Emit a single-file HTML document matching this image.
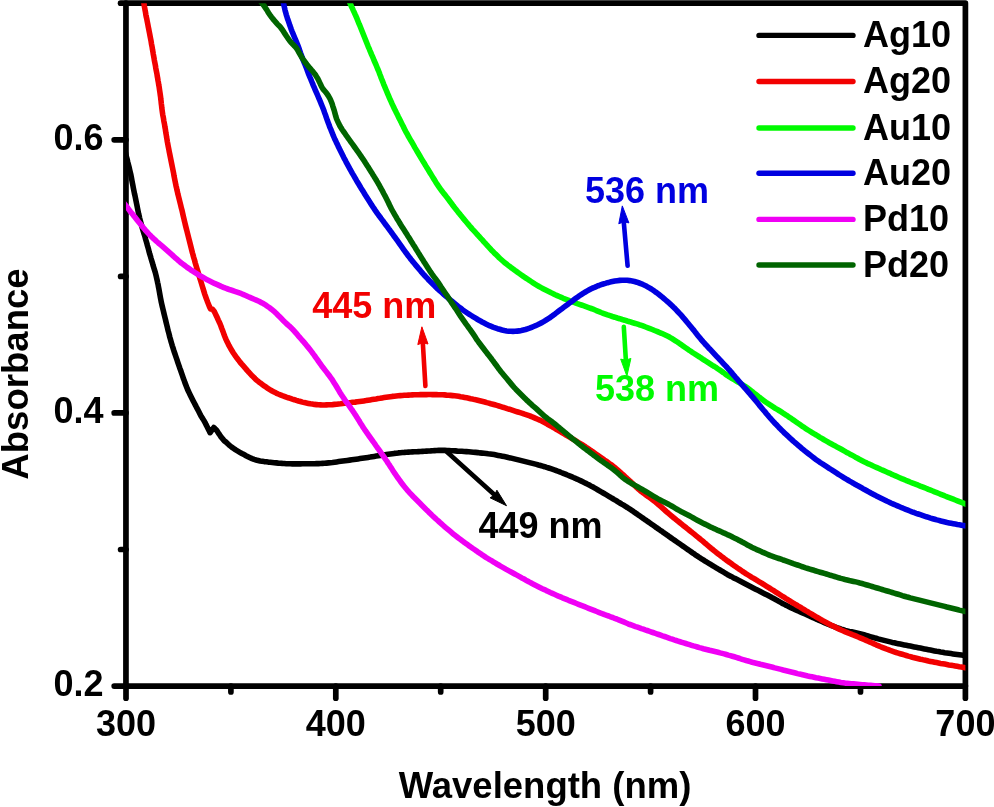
<!DOCTYPE html>
<html><head><meta charset="utf-8"><title>Absorbance spectra</title>
<style>html,body{margin:0;padding:0;background:#fff;width:994px;height:807px;overflow:hidden}svg{display:block;filter:blur(0.45px)}</style>
</head><body>
<svg width="994" height="807" viewBox="0 0 994 807">
<defs><clipPath id="pc"><rect x="125.95" y="3.2" width="839.45" height="682.9"/></clipPath></defs>
<rect width="994" height="807" fill="#fff"/>
<g stroke="#000" stroke-width="5.7" stroke-linecap="round" fill="none">
<path d="M125.95,3.2 L965.4,3.2 L965.4,686.1 L125.95,686.1 Z" stroke-linejoin="round"/>
<line x1="114.2" y1="686.1" x2="125.95" y2="686.1"/>
<line x1="114.2" y1="412.9" x2="125.95" y2="412.9"/>
<line x1="114.2" y1="139.8" x2="125.95" y2="139.8"/>
<line x1="120.6" y1="549.5" x2="125.95" y2="549.5"/>
<line x1="120.6" y1="276.4" x2="125.95" y2="276.4"/>
<line x1="120.6" y1="3.2" x2="125.95" y2="3.2"/>
<line x1="126.0" y1="686.1" x2="126.0" y2="698.2"/>
<line x1="335.8" y1="686.1" x2="335.8" y2="698.2"/>
<line x1="545.7" y1="686.1" x2="545.7" y2="698.2"/>
<line x1="755.5" y1="686.1" x2="755.5" y2="698.2"/>
<line x1="965.4" y1="686.1" x2="965.4" y2="698.2"/>
<line x1="230.9" y1="686.1" x2="230.9" y2="692"/>
<line x1="440.7" y1="686.1" x2="440.7" y2="692"/>
<line x1="650.6" y1="686.1" x2="650.6" y2="692"/>
<line x1="860.5" y1="686.1" x2="860.5" y2="692"/>
</g>
<g clip-path="url(#pc)" fill="none" stroke-linejoin="round" stroke-linecap="round">
<polyline points="125.0,151.0 125.5,153.0 126.0,155.1 126.6,157.4 127.2,159.6 127.7,161.9 128.3,164.2 128.9,166.4 129.4,168.6 129.9,170.8 130.4,172.9 130.9,175.0 131.3,177.1 131.7,179.3 132.1,181.4 132.5,183.5 132.9,185.6 133.3,187.7 133.7,189.8 134.1,191.8 134.5,193.8 135.0,195.8 135.4,197.8 135.8,199.8 136.2,201.8 136.6,203.8 137.0,205.7 137.4,207.7 137.8,209.7 138.2,211.7 138.6,213.7 139.1,215.6 139.5,217.6 140.0,219.6 140.5,221.6 141.1,223.6 141.6,225.6 142.2,227.6 142.8,229.6 143.4,231.6 144.0,233.6 144.6,235.5 145.2,237.5 145.7,239.5 146.3,241.5 146.9,243.5 147.4,245.5 148.0,247.6 148.6,249.6 149.1,251.8 149.7,253.9 150.4,256.1 151.0,258.3 151.7,260.6 152.4,262.8 153.0,265.1 153.7,267.3 154.4,269.6 155.1,271.8 155.7,274.1 156.2,276.2 156.7,278.4 157.2,280.5 157.6,282.6 158.1,284.7 158.5,286.9 158.9,289.0 159.3,291.2 159.7,293.4 160.1,295.7 160.5,297.9 160.9,300.1 161.3,302.2 161.8,304.4 162.3,306.5 162.8,308.6 163.3,310.7 163.8,312.7 164.3,314.8 164.8,316.9 165.3,318.9 165.8,321.0 166.3,323.1 166.8,325.1 167.3,327.2 167.8,329.3 168.3,331.3 168.9,333.4 169.4,335.5 169.9,337.5 170.5,339.6 171.1,341.7 171.7,343.7 172.3,345.8 173.0,347.9 173.6,349.9 174.3,352.0 175.0,354.0 175.7,356.1 176.4,358.1 177.1,360.2 177.8,362.3 178.5,364.3 179.2,366.4 179.9,368.4 180.7,370.5 181.4,372.6 182.1,374.6 182.8,376.7 183.5,378.8 184.3,380.8 185.0,382.9 185.8,384.9 186.6,387.0 187.4,389.0 188.3,391.0 189.2,392.9 190.2,394.9 191.2,396.9 192.2,398.9 193.2,400.9 194.3,403.0 195.4,405.1 196.4,407.1 197.5,409.1 198.5,411.0 199.5,413.0 200.4,414.9 201.5,416.8 202.7,418.6 203.8,420.4 204.9,422.3 205.9,424.4 207.0,426.5 208.0,428.5 209.1,430.6 210.1,432.7 211.3,431.0 212.6,429.2 213.8,427.5 215.3,429.0 216.8,430.5 217.9,432.2 219.0,433.9 220.1,435.5 221.2,437.2 222.7,438.9 224.2,440.7 226.2,442.3 228.0,444.0 229.8,445.6 231.7,447.1 233.7,448.5 235.7,449.9 237.8,451.1 239.8,452.3 241.9,453.5 244.0,454.6 246.0,455.7 248.0,456.7 250.1,457.7 252.1,458.6 254.1,459.4 256.1,460.0 258.1,460.5 260.1,461.0 262.1,461.3 264.2,461.6 266.2,461.8 268.2,462.1 270.2,462.3 272.2,462.5 274.2,462.7 276.2,462.9 278.3,463.1 280.3,463.2 282.3,463.4 284.3,463.5 286.3,463.7 288.3,463.8 290.3,463.8 292.3,463.9 294.3,463.9 296.3,463.9 298.3,463.9 300.4,463.9 302.4,463.8 304.4,463.8 306.4,463.8 308.4,463.7 310.4,463.7 312.4,463.7 314.5,463.7 316.5,463.6 318.5,463.6 320.5,463.5 322.5,463.4 324.5,463.3 326.5,463.1 328.5,462.9 330.5,462.7 332.5,462.5 334.6,462.2 336.6,461.9 338.7,461.6 340.8,461.3 342.9,461.0 345.1,460.7 347.3,460.4 349.6,460.1 351.8,459.8 353.9,459.5 356.0,459.2 358.1,458.9 360.1,458.6 362.1,458.3 364.1,458.0 366.1,457.7 368.1,457.4 370.2,457.1 372.2,456.7 374.2,456.4 376.2,456.1 378.2,455.8 380.2,455.5 382.2,455.2 384.3,454.9 386.3,454.6 388.3,454.3 390.3,454.0 392.3,453.7 394.3,453.4 396.4,453.2 398.4,452.9 400.4,452.7 402.4,452.5 404.4,452.4 406.4,452.2 408.4,452.1 410.4,452.0 412.4,451.9 414.5,451.8 416.5,451.7 418.5,451.6 420.5,451.5 422.5,451.4 424.6,451.3 426.6,451.1 428.6,451.0 430.6,450.9 432.6,450.7 434.7,450.6 436.7,450.5 438.7,450.4 440.8,450.4 442.9,450.4 444.9,450.4 447.0,450.5 449.1,450.6 451.1,450.7 453.2,450.8 455.3,450.9 457.4,451.1 459.6,451.2 461.9,451.3 464.1,451.5 466.4,451.6 468.7,451.8 471.0,452.0 473.3,452.2 475.6,452.4 477.8,452.6 480.0,452.9 482.1,453.1 484.1,453.3 486.2,453.5 488.2,453.8 490.2,454.0 492.2,454.3 494.2,454.6 496.2,455.0 498.2,455.4 500.3,455.8 502.3,456.2 504.3,456.6 506.3,457.0 508.3,457.5 510.3,457.9 512.3,458.4 514.3,458.9 516.3,459.4 518.4,459.9 520.4,460.4 522.4,460.9 524.4,461.4 526.4,461.9 528.4,462.4 530.4,462.9 532.5,463.4 534.5,463.9 536.5,464.4 538.5,465.0 540.5,465.5 542.6,466.1 544.6,466.7 546.7,467.4 548.7,468.0 550.8,468.7 552.9,469.4 555.0,470.1 557.0,470.9 559.1,471.6 561.2,472.5 563.3,473.3 565.4,474.1 567.4,475.0 569.5,475.8 571.4,476.6 573.4,477.5 575.3,478.3 577.1,479.2 579.0,480.0 580.9,480.9 582.7,481.8 584.6,482.7 586.5,483.6 588.3,484.6 590.2,485.6 592.0,486.6 593.9,487.6 595.8,488.7 597.6,489.7 599.5,490.8 601.3,491.9 603.2,493.0 605.0,494.0 606.9,495.2 608.8,496.3 610.6,497.4 612.5,498.5 614.3,499.6 616.2,500.7 618.0,501.9 619.9,503.0 621.7,504.1 623.6,505.2 625.5,506.4 627.3,507.5 629.1,508.7 631.0,509.9 632.8,511.1 634.6,512.4 636.4,513.6 638.1,514.8 639.9,516.0 641.6,517.2 643.3,518.4 644.9,519.6 646.6,520.7 648.3,521.9 649.9,523.0 651.6,524.2 653.2,525.3 654.9,526.5 656.5,527.7 658.2,528.8 659.8,530.0 661.5,531.1 663.1,532.3 664.8,533.4 666.4,534.6 668.1,535.7 669.7,536.9 671.4,538.1 673.0,539.2 674.7,540.4 676.3,541.5 678.0,542.7 679.6,543.8 681.3,545.0 682.9,546.1 684.6,547.3 686.3,548.5 687.9,549.6 689.6,550.8 691.2,551.9 692.9,553.1 694.6,554.2 696.2,555.4 698.0,556.5 699.7,557.7 701.5,558.8 703.3,559.9 705.1,561.1 706.9,562.2 708.8,563.3 710.6,564.4 712.5,565.6 714.3,566.7 716.2,567.8 718.0,568.9 719.9,570.0 721.8,571.1 723.6,572.2 725.5,573.3 727.3,574.4 729.2,575.4 731.1,576.4 732.9,577.4 734.8,578.4 736.7,579.3 738.5,580.2 740.4,581.2 742.3,582.2 744.2,583.2 746.1,584.2 748.0,585.2 749.9,586.2 751.8,587.2 753.7,588.2 755.6,589.2 757.4,590.1 759.3,591.0 761.2,592.0 763.0,592.9 764.9,593.9 766.7,594.8 768.6,595.8 770.5,596.8 772.3,597.8 774.2,598.8 776.0,599.8 777.9,600.8 779.8,601.9 781.6,602.9 783.5,603.9 785.3,604.9 787.2,605.8 789.0,606.7 790.9,607.6 792.7,608.5 794.6,609.3 796.4,610.1 798.3,611.0 800.2,611.8 802.0,612.6 803.9,613.5 805.7,614.3 807.6,615.1 809.4,616.0 811.3,616.8 813.1,617.7 815.0,618.5 816.9,619.3 818.7,620.2 820.6,621.0 822.4,621.8 824.3,622.6 826.2,623.4 828.0,624.2 829.9,624.9 831.7,625.7 833.6,626.4 835.5,627.1 837.4,627.8 839.3,628.5 841.2,629.2 843.2,629.8 845.2,630.4 847.3,630.9 849.3,631.4 851.5,631.8 853.6,632.3 855.7,632.8 857.8,633.3 859.9,633.8 861.9,634.3 864.0,634.8 866.0,635.4 868.0,636.0 870.1,636.6 872.1,637.2 874.1,637.8 876.1,638.3 878.1,638.9 880.1,639.4 882.1,639.9 884.1,640.4 886.2,640.9 888.2,641.4 890.2,641.9 892.2,642.4 894.2,642.8 896.2,643.3 898.2,643.7 900.2,644.1 902.3,644.5 904.3,644.9 906.3,645.3 908.3,645.7 910.3,646.1 912.3,646.5 914.3,646.9 916.4,647.3 918.4,647.7 920.4,648.1 922.4,648.5 924.4,648.9 926.4,649.3 928.4,649.7 930.4,650.1 932.5,650.5 934.5,650.9 936.5,651.3 938.5,651.6 940.6,652.0 942.6,652.3 944.7,652.7 946.8,653.0 948.9,653.3 951.0,653.6 953.0,653.9 955.1,654.2 957.2,654.5 959.3,654.8 961.4,655.1 968.0,656.0" stroke="#000000" stroke-width="5.6"/>
<polyline points="143.6,1.5 144.0,3.7 144.3,5.9 144.7,8.0 145.1,10.2 145.5,12.3 145.8,14.4 146.2,16.5 146.7,18.6 147.1,20.7 147.5,22.7 147.9,24.8 148.3,26.9 148.7,28.9 149.1,31.0 149.5,33.1 149.9,35.1 150.3,37.2 150.7,39.3 151.1,41.3 151.4,43.4 151.8,45.5 152.2,47.5 152.5,49.6 152.9,51.7 153.2,53.7 153.6,55.8 154.0,57.9 154.3,59.9 154.7,62.0 155.1,64.0 155.5,66.1 155.8,68.2 156.2,70.2 156.6,72.3 157.0,74.3 157.3,76.4 157.7,78.4 158.0,80.5 158.4,82.6 158.7,84.6 159.1,86.7 159.4,88.8 159.7,90.8 160.0,92.9 160.3,95.0 160.6,97.1 160.8,99.2 161.1,101.4 161.3,103.6 161.6,105.8 161.8,107.9 162.1,110.1 162.4,112.3 162.7,114.4 163.1,116.5 163.5,118.6 163.8,120.7 164.2,122.7 164.6,124.8 164.9,126.9 165.3,128.9 165.6,131.0 165.9,133.1 166.3,135.2 166.6,137.3 167.0,139.4 167.3,141.5 167.7,143.6 168.1,145.7 168.5,147.8 168.9,149.8 169.3,151.9 169.7,153.9 170.1,155.9 170.5,157.9 170.9,159.9 171.3,161.9 171.7,163.9 172.1,165.8 172.5,167.8 172.9,169.8 173.3,171.8 173.7,173.8 174.0,175.8 174.4,177.8 174.8,179.8 175.2,181.8 175.6,183.8 176.0,185.7 176.5,187.7 176.9,189.7 177.4,191.7 177.8,193.7 178.3,195.6 178.8,197.6 179.3,199.6 179.8,201.6 180.3,203.6 180.8,205.7 181.3,207.8 181.9,209.9 182.4,212.1 182.9,214.4 183.4,216.6 183.9,218.7 184.4,220.9 184.9,222.9 185.4,225.0 185.9,227.0 186.4,229.0 186.9,230.9 187.4,232.9 187.9,234.9 188.4,236.9 188.9,238.9 189.4,240.8 189.9,242.8 190.4,244.8 190.9,246.8 191.4,248.8 191.9,250.8 192.4,252.8 193.0,254.8 193.5,256.8 194.1,258.8 194.7,260.7 195.2,262.7 195.8,264.7 196.4,266.7 197.0,268.7 197.6,270.6 198.2,272.6 198.8,274.6 199.4,276.6 200.0,278.6 200.6,280.5 201.2,282.5 201.8,284.5 202.4,286.5 203.0,288.4 203.6,290.4 204.2,292.4 204.8,294.4 205.5,296.3 206.2,298.2 206.9,300.1 207.6,302.0 208.5,304.2 209.4,306.5 210.6,309.0 212.5,309.3 214.3,311.5 215.3,313.6 216.3,315.7 217.3,317.8 218.3,320.1 219.3,322.2 220.2,324.2 221.0,326.2 221.7,328.2 222.5,330.2 223.2,332.1 223.9,334.1 224.6,336.0 225.4,338.0 226.2,339.9 227.1,341.8 228.0,343.6 228.9,345.4 229.9,347.2 230.9,349.0 232.0,350.8 233.2,352.7 234.4,354.5 235.7,356.4 237.1,358.3 238.6,360.2 240.0,362.1 241.5,363.9 243.1,365.7 244.6,367.4 246.1,369.1 247.6,370.9 249.1,372.5 250.6,374.2 252.1,375.8 253.7,377.3 255.2,378.8 256.9,380.3 258.6,381.7 260.4,383.1 262.3,384.5 264.2,385.9 266.2,387.2 268.2,388.6 270.2,389.8 272.2,391.0 274.2,392.1 276.2,393.1 278.2,394.0 280.3,394.8 282.3,395.6 284.3,396.3 286.3,397.1 288.3,397.8 290.3,398.4 292.3,399.1 294.3,399.7 296.3,400.4 298.4,401.0 300.4,401.5 302.4,402.1 304.4,402.6 306.4,403.0 308.4,403.4 310.4,403.8 312.4,404.1 314.4,404.4 316.5,404.6 318.5,404.8 320.5,404.9 322.5,405.0 324.5,405.0 326.5,404.9 328.5,404.8 330.5,404.7 332.5,404.6 334.6,404.4 336.6,404.3 338.6,404.0 340.6,403.8 342.6,403.5 344.7,403.3 346.7,403.0 348.7,402.8 350.8,402.6 353.0,402.3 355.1,402.1 357.4,401.8 359.6,401.5 361.7,401.2 363.9,400.9 366.0,400.6 368.0,400.2 370.1,399.9 372.1,399.6 374.1,399.3 376.1,399.0 378.1,398.6 380.1,398.3 382.1,397.9 384.2,397.6 386.2,397.3 388.2,397.0 390.2,396.7 392.2,396.4 394.2,396.2 396.2,396.0 398.2,395.8 400.2,395.6 402.3,395.5 404.3,395.3 406.3,395.2 408.3,395.1 410.3,395.0 412.3,394.9 414.3,394.8 416.4,394.8 418.4,394.7 420.4,394.6 422.4,394.6 424.4,394.6 426.4,394.6 428.4,394.5 430.4,394.5 432.5,394.6 434.5,394.6 436.5,394.6 438.5,394.7 440.5,394.7 442.5,394.8 444.5,394.9 446.5,395.1 448.6,395.2 450.6,395.4 452.6,395.6 454.6,395.8 456.6,396.0 458.6,396.3 460.6,396.7 462.6,397.0 464.6,397.4 466.7,397.8 468.7,398.2 470.7,398.7 472.7,399.1 474.7,399.6 476.7,400.0 478.7,400.5 480.7,401.0 482.8,401.5 484.8,402.0 486.8,402.6 488.8,403.1 490.8,403.7 492.8,404.2 494.8,404.8 496.9,405.4 498.9,406.0 500.9,406.6 503.0,407.3 505.0,407.9 507.1,408.6 509.3,409.2 511.4,409.9 513.6,410.6 515.7,411.3 517.9,412.0 520.1,412.7 522.4,413.4 524.6,414.2 526.8,414.9 529.1,415.7 531.3,416.5 533.4,417.4 535.6,418.3 537.7,419.2 539.7,420.1 541.7,421.1 543.6,422.1 545.5,423.1 547.4,424.2 549.3,425.2 551.2,426.2 553.0,427.3 554.9,428.4 556.7,429.5 558.6,430.5 560.4,431.6 562.3,432.8 564.2,433.9 566.0,435.0 567.9,436.1 569.7,437.2 571.6,438.3 573.4,439.4 575.3,440.5 577.1,441.7 579.0,442.8 580.8,443.9 582.6,445.0 584.4,446.1 586.1,447.3 587.9,448.4 589.5,449.6 591.2,450.7 592.9,451.9 594.5,453.0 596.2,454.2 597.8,455.3 599.5,456.5 601.1,457.7 602.8,458.8 604.4,460.0 606.1,461.1 607.7,462.3 609.3,463.5 611.0,464.6 612.6,465.8 614.1,467.1 615.7,468.3 617.2,469.6 618.7,470.9 620.3,472.3 621.7,473.6 623.2,474.9 624.7,476.3 626.2,477.7 627.7,479.0 629.3,480.5 630.8,481.9 632.3,483.3 633.8,484.8 635.4,486.3 636.9,487.7 638.5,489.1 640.1,490.5 641.7,491.8 643.3,493.0 645.0,494.2 646.6,495.4 648.3,496.6 649.9,497.8 651.6,499.0 653.2,500.2 654.9,501.5 656.5,502.9 658.2,504.3 659.8,505.7 661.5,507.2 663.1,508.6 664.8,510.1 666.4,511.6 668.1,513.0 669.7,514.4 671.4,515.8 673.0,517.2 674.7,518.5 676.3,519.9 678.0,521.2 679.6,522.5 681.3,523.9 682.9,525.2 684.6,526.5 686.3,527.8 687.9,529.1 689.6,530.5 691.2,531.8 692.9,533.1 694.5,534.4 696.2,535.8 697.8,537.1 699.5,538.5 701.1,539.8 702.8,541.2 704.4,542.6 706.1,544.0 707.7,545.4 709.4,546.8 711.0,548.2 712.7,549.5 714.3,550.8 716.0,552.2 717.6,553.4 719.3,554.7 720.9,556.0 722.6,557.2 724.2,558.5 725.9,559.7 727.5,560.9 729.2,562.1 730.9,563.3 732.5,564.5 734.2,565.7 735.8,566.8 737.5,568.0 739.2,569.1 740.9,570.3 742.6,571.5 744.4,572.6 746.2,573.8 748.1,575.0 749.9,576.1 751.8,577.3 753.7,578.4 755.6,579.5 757.4,580.7 759.3,581.8 761.2,582.9 763.0,584.0 764.8,585.2 766.6,586.3 768.4,587.4 770.2,588.5 771.9,589.6 773.7,590.7 775.4,591.8 777.1,592.9 778.7,593.9 780.4,595.0 782.1,596.1 783.9,597.2 785.6,598.3 787.4,599.4 789.1,600.5 790.9,601.6 792.8,602.8 794.6,603.9 796.5,605.0 798.3,606.1 800.2,607.2 802.0,608.4 803.9,609.5 805.7,610.6 807.6,611.7 809.4,612.8 811.3,613.9 813.1,615.0 815.0,616.1 816.9,617.3 818.7,618.3 820.6,619.4 822.4,620.5 824.3,621.5 826.2,622.5 828.0,623.5 829.9,624.5 831.7,625.4 833.6,626.3 835.5,627.3 837.3,628.2 839.2,629.1 841.1,630.0 842.9,630.8 844.8,631.6 846.7,632.4 848.6,633.2 850.5,633.9 852.4,634.7 854.3,635.4 856.2,636.2 858.2,637.0 860.1,637.8 862.1,638.6 864.1,639.5 866.1,640.4 868.1,641.3 870.1,642.2 872.1,643.0 874.1,643.9 876.1,644.8 878.1,645.6 880.1,646.5 882.1,647.3 884.1,648.1 886.2,648.9 888.2,649.6 890.2,650.4 892.2,651.1 894.2,651.8 896.2,652.5 898.2,653.1 900.2,653.7 902.3,654.3 904.3,654.9 906.3,655.5 908.3,656.1 910.3,656.6 912.3,657.2 914.3,657.7 916.4,658.2 918.4,658.7 920.4,659.2 922.4,659.6 924.4,660.1 926.4,660.5 928.4,661.0 930.4,661.4 932.5,661.8 934.5,662.2 936.5,662.6 938.5,663.0 940.6,663.4 942.6,663.7 944.7,664.1 946.8,664.5 948.9,664.9 951.0,665.2 953.0,665.6 955.1,665.9 957.2,666.3 959.3,666.7 961.4,667.0 968.0,668.2" stroke="#f20000" stroke-width="5.6"/>
<polyline points="349.2,1.5 350.1,3.3 350.9,5.2 351.7,7.0 352.6,8.8 353.4,10.6 354.3,12.5 355.1,14.4 356.0,16.3 356.8,18.2 357.6,20.2 358.4,22.2 359.2,24.2 360.1,26.2 360.9,28.2 361.7,30.2 362.5,32.2 363.3,34.2 364.1,36.2 364.9,38.2 365.7,40.3 366.5,42.3 367.3,44.3 368.1,46.3 369.0,48.3 369.8,50.3 370.7,52.4 371.5,54.4 372.4,56.4 373.3,58.4 374.1,60.5 375.0,62.5 375.9,64.5 376.7,66.5 377.5,68.5 378.4,70.5 379.2,72.5 379.9,74.5 380.7,76.5 381.4,78.5 382.2,80.4 383.0,82.4 383.7,84.3 384.5,86.2 385.3,88.1 386.1,90.0 386.9,91.9 387.7,93.8 388.5,95.7 389.3,97.6 390.1,99.5 391.0,101.3 391.8,103.2 392.7,105.1 393.6,107.0 394.5,109.0 395.5,110.9 396.4,112.8 397.4,114.7 398.3,116.7 399.3,118.6 400.3,120.5 401.2,122.4 402.2,124.4 403.2,126.3 404.1,128.2 405.1,130.2 406.1,132.1 407.2,134.0 408.2,136.0 409.3,137.9 410.4,139.8 411.6,141.8 412.7,143.7 413.8,145.6 414.9,147.6 416.1,149.6 417.2,151.5 418.4,153.5 419.6,155.5 420.8,157.6 422.0,159.6 423.3,161.7 424.6,163.8 425.8,165.9 427.1,168.0 428.4,170.0 429.6,172.1 430.9,174.1 432.1,176.1 433.3,178.1 434.6,180.1 435.8,182.2 437.1,184.2 438.4,186.1 439.8,188.1 441.1,190.0 442.5,191.8 443.9,193.6 445.3,195.3 446.7,197.1 448.0,198.8 449.3,200.5 450.6,202.3 451.9,204.0 453.2,205.8 454.5,207.5 455.9,209.2 457.2,210.9 458.5,212.6 459.9,214.2 461.2,215.9 462.6,217.5 463.9,219.2 465.3,220.8 466.7,222.5 468.1,224.1 469.5,225.8 470.9,227.4 472.3,229.1 473.8,230.7 475.2,232.2 476.7,233.8 478.1,235.4 479.6,237.0 481.0,238.6 482.5,240.2 483.9,241.8 485.4,243.4 486.8,245.0 488.3,246.6 489.7,248.1 491.1,249.7 492.6,251.2 494.0,252.7 495.5,254.1 497.0,255.6 498.5,257.1 500.0,258.5 501.7,260.0 503.4,261.5 505.2,263.1 507.2,264.6 509.1,266.1 511.1,267.6 513.1,269.0 515.1,270.5 517.1,271.9 519.0,273.3 521.0,274.7 523.0,276.1 525.0,277.5 527.1,278.8 529.1,280.2 531.1,281.5 533.1,282.8 535.1,284.1 537.1,285.3 539.1,286.5 541.1,287.6 543.1,288.7 545.2,289.8 547.2,290.8 549.2,291.8 551.2,292.8 553.2,293.7 555.2,294.7 557.2,295.6 559.2,296.5 561.3,297.4 563.3,298.3 565.3,299.1 567.3,299.9 569.3,300.7 571.3,301.4 573.3,302.1 575.3,302.8 577.4,303.6 579.4,304.3 581.4,305.0 583.4,305.7 585.3,306.4 587.3,307.1 589.3,307.8 591.2,308.5 593.1,309.2 595.1,310.0 597.0,310.8 599.0,311.6 601.1,312.5 603.2,313.3 605.4,314.1 607.6,314.9 610.0,315.7 612.4,316.5 614.8,317.2 617.3,318.0 619.7,318.7 622.2,319.5 624.7,320.2 627.2,321.0 629.6,321.7 632.1,322.5 634.5,323.2 636.9,323.9 639.2,324.7 641.5,325.4 643.6,326.2 645.7,327.0 647.9,327.8 650.0,328.6 652.3,329.5 654.6,330.5 656.9,331.4 659.2,332.4 661.5,333.3 663.7,334.3 665.8,335.3 667.9,336.3 669.8,337.3 671.7,338.4 673.6,339.6 675.5,340.8 677.4,342.0 679.2,343.3 681.1,344.6 682.9,345.9 684.8,347.2 686.7,348.5 688.5,349.8 690.4,351.0 692.2,352.3 694.1,353.5 695.9,354.7 697.8,355.9 699.6,357.0 701.4,358.2 703.1,359.4 704.9,360.5 706.7,361.7 708.6,362.9 710.5,364.1 712.4,365.3 714.4,366.5 716.3,367.7 718.1,369.0 719.9,370.2 721.7,371.4 723.4,372.6 725.1,373.9 726.8,375.1 728.5,376.3 730.3,377.4 732.2,378.6 734.1,379.7 736.0,380.8 738.0,382.0 740.0,383.1 741.9,384.3 743.8,385.5 745.7,386.7 747.6,388.1 749.5,389.5 751.3,390.9 753.1,392.3 754.9,393.8 756.8,395.3 758.6,396.7 760.5,398.1 762.3,399.5 764.2,400.9 766.0,402.2 767.9,403.5 769.7,404.7 771.6,405.9 773.5,407.1 775.3,408.3 777.2,409.4 779.0,410.5 780.9,411.7 782.7,412.9 784.6,414.1 786.5,415.3 788.3,416.6 790.2,417.8 792.0,419.1 793.9,420.4 795.8,421.7 797.6,423.0 799.5,424.3 801.3,425.6 803.2,426.8 805.0,428.1 806.9,429.3 808.8,430.5 810.6,431.6 812.5,432.8 814.3,433.9 816.2,435.0 818.1,436.2 819.9,437.3 821.8,438.4 823.6,439.5 825.5,440.6 827.4,441.7 829.2,442.7 831.1,443.7 832.9,444.7 834.8,445.7 836.7,446.8 838.5,447.8 840.4,448.8 842.2,449.8 844.1,450.9 845.9,451.9 847.8,452.9 849.6,453.9 851.5,454.9 853.3,455.9 855.1,456.9 857.0,457.9 858.8,459.0 860.7,460.0 862.6,461.0 864.6,462.0 866.6,462.9 868.6,463.9 870.7,464.8 872.7,465.8 874.8,466.7 876.9,467.6 878.9,468.5 881.0,469.5 883.1,470.4 885.1,471.3 887.2,472.2 889.3,473.1 891.3,474.1 893.4,475.0 895.5,475.9 897.5,476.8 899.6,477.7 901.7,478.6 903.7,479.4 905.8,480.3 907.9,481.1 909.9,482.0 912.0,482.8 914.1,483.6 916.1,484.4 918.2,485.2 920.3,486.1 922.3,486.9 924.4,487.7 926.5,488.5 928.5,489.4 930.6,490.2 932.7,491.0 934.7,491.9 936.8,492.7 938.9,493.5 940.9,494.3 943.0,495.1 945.1,496.0 947.1,496.8 949.2,497.6 951.2,498.4 953.3,499.2 955.3,500.0 957.4,500.8 959.4,501.6 961.5,502.4 968.0,505.0" stroke="#00fa00" stroke-width="5.6"/>
<polyline points="283.1,1.5 283.6,3.7 284.1,6.0 284.6,8.2 285.1,10.4 285.7,12.6 286.3,14.8 287.0,16.9 287.6,19.0 288.4,21.1 289.1,23.2 289.8,25.3 290.6,27.4 291.3,29.5 292.1,31.6 293.0,33.7 293.9,35.8 294.8,38.0 295.7,40.1 296.6,42.3 297.5,44.5 298.3,46.6 299.1,48.7 299.8,50.8 300.5,52.9 301.3,55.0 302.0,57.1 302.8,59.1 303.6,61.2 304.5,63.3 305.3,65.3 306.1,67.3 306.9,69.3 307.6,71.3 308.4,73.4 309.2,75.4 310.0,77.4 310.9,79.4 311.7,81.5 312.6,83.6 313.4,85.6 314.3,87.7 315.2,89.8 316.1,91.9 317.0,93.9 317.9,96.0 318.8,98.1 319.7,100.2 320.6,102.3 321.4,104.4 322.3,106.5 323.1,108.5 323.9,110.6 324.6,112.7 325.4,114.7 326.1,116.8 326.8,118.8 327.5,120.8 328.3,122.9 329.1,125.0 329.8,127.1 330.7,129.1 331.5,131.2 332.4,133.3 333.2,135.4 334.1,137.5 335.0,139.6 336.0,141.6 336.9,143.6 337.9,145.6 338.8,147.6 339.8,149.6 340.8,151.6 341.8,153.6 342.8,155.6 343.8,157.6 344.9,159.6 345.9,161.6 347.0,163.6 348.1,165.6 349.2,167.6 350.3,169.7 351.4,171.6 352.5,173.6 353.6,175.4 354.7,177.3 355.7,179.0 356.7,180.8 357.7,182.5 358.8,184.3 359.8,186.0 360.8,187.7 361.9,189.4 362.9,191.1 364.0,192.8 365.0,194.5 366.1,196.2 367.2,197.9 368.2,199.6 369.3,201.3 370.4,203.0 371.4,204.7 372.6,206.4 373.7,208.1 374.9,209.9 376.1,211.6 377.3,213.3 378.5,215.0 379.8,216.7 381.0,218.4 382.3,220.1 383.6,221.8 384.8,223.5 386.1,225.2 387.4,226.9 388.6,228.6 389.9,230.3 391.1,232.0 392.4,233.7 393.6,235.5 394.9,237.2 396.1,238.9 397.4,240.7 398.6,242.4 399.8,244.1 401.1,245.9 402.3,247.6 403.5,249.3 404.8,251.1 406.0,252.8 407.3,254.5 408.6,256.3 410.0,258.0 411.3,259.8 412.8,261.6 414.2,263.3 415.7,265.1 417.2,266.9 418.7,268.7 420.2,270.4 421.6,272.2 423.1,273.9 424.6,275.5 426.1,277.1 427.6,278.7 429.0,280.3 430.5,281.8 432.0,283.3 433.5,284.8 435.0,286.2 436.5,287.7 438.0,289.2 439.6,290.6 441.2,292.0 442.8,293.4 444.4,294.9 446.1,296.4 448.0,297.9 449.9,299.6 451.9,301.2 453.9,302.9 456.1,304.7 458.2,306.4 460.4,308.0 462.5,309.7 464.7,311.2 466.9,312.7 469.0,314.1 471.2,315.5 473.4,316.9 475.6,318.2 477.7,319.5 479.9,320.7 482.1,322.0 484.2,323.1 486.4,324.2 488.6,325.3 490.8,326.2 493.0,327.1 495.2,327.9 497.5,328.7 499.7,329.3 502.0,330.0 504.3,330.5 506.6,330.9 508.8,331.2 510.9,331.3 513.0,331.4 515.1,331.3 517.2,331.1 519.3,330.9 521.3,330.5 523.4,330.0 525.5,329.5 527.5,328.8 529.6,328.1 531.6,327.3 533.6,326.5 535.6,325.7 537.6,324.8 539.6,323.8 541.6,322.7 543.6,321.6 545.6,320.4 547.6,319.1 549.6,317.9 551.4,316.6 553.2,315.2 555.0,313.9 556.7,312.6 558.4,311.3 560.1,310.0 561.9,308.7 563.6,307.4 565.5,306.0 567.3,304.7 569.1,303.3 571.0,302.0 572.7,300.7 574.5,299.3 576.2,298.0 578.0,296.8 579.8,295.5 581.6,294.3 583.5,293.1 585.4,292.0 587.3,290.9 589.3,289.8 591.2,288.8 593.1,287.9 595.1,287.1 597.0,286.2 599.0,285.5 601.1,284.7 603.2,284.0 605.4,283.4 607.6,282.7 610.0,282.1 612.4,281.6 614.8,281.1 617.3,280.7 619.7,280.4 622.2,280.3 624.7,280.2 627.2,280.3 629.6,280.6 632.1,281.0 634.5,281.5 636.9,282.2 639.2,283.0 641.4,283.8 643.5,284.8 645.6,285.7 647.5,286.8 649.4,287.9 651.3,289.0 653.2,290.3 655.0,291.6 656.9,292.9 658.7,294.3 660.5,295.7 662.3,297.1 664.0,298.6 665.6,300.0 667.2,301.4 668.7,302.7 670.3,304.1 671.8,305.5 673.3,307.0 674.8,308.4 676.2,309.9 677.7,311.5 679.2,313.1 680.7,314.7 682.2,316.4 683.7,318.2 685.2,319.9 686.7,321.7 688.2,323.5 689.6,325.2 691.1,327.0 692.5,328.7 693.9,330.4 695.2,332.1 696.5,333.8 697.8,335.4 699.1,337.0 700.4,338.6 701.7,340.2 703.0,341.7 704.4,343.2 705.8,344.8 707.3,346.3 708.7,347.9 710.3,349.5 711.8,351.2 713.4,352.9 715.0,354.6 716.6,356.3 718.1,357.9 719.7,359.6 721.2,361.2 722.7,362.8 724.1,364.3 725.6,365.9 727.1,367.5 728.5,369.1 730.0,370.7 731.4,372.4 732.8,374.1 734.3,375.8 735.7,377.5 737.2,379.2 738.6,380.8 740.1,382.5 741.5,384.2 743.0,385.9 744.5,387.6 745.9,389.2 747.4,390.9 748.9,392.7 750.4,394.4 751.9,396.2 753.4,397.9 754.9,399.7 756.4,401.5 757.9,403.3 759.3,405.1 760.8,406.9 762.3,408.7 763.8,410.5 765.3,412.2 766.7,414.0 768.2,415.7 769.7,417.5 771.2,419.2 772.7,420.8 774.2,422.5 775.7,424.1 777.2,425.6 778.7,427.2 780.2,428.7 781.7,430.3 783.3,431.8 784.9,433.4 786.6,434.9 788.3,436.5 790.0,438.1 791.7,439.6 793.3,441.1 794.9,442.5 796.6,443.9 798.2,445.3 799.8,446.7 801.5,448.2 803.3,449.6 805.1,451.1 806.9,452.5 808.8,454.0 810.6,455.4 812.5,456.9 814.3,458.3 816.2,459.7 818.1,461.0 819.9,462.3 821.8,463.5 823.6,464.7 825.5,465.9 827.4,467.1 829.2,468.3 831.1,469.5 832.9,470.7 834.8,471.9 836.7,473.1 838.5,474.3 840.4,475.5 842.2,476.6 844.1,477.8 845.9,478.9 847.8,480.0 849.6,481.1 851.5,482.2 853.3,483.2 855.1,484.3 856.9,485.3 858.8,486.3 860.6,487.3 862.4,488.3 864.1,489.3 865.9,490.3 867.7,491.3 869.5,492.2 871.3,493.2 873.2,494.2 875.1,495.2 877.0,496.3 879.0,497.3 881.0,498.3 883.1,499.3 885.1,500.3 887.2,501.3 889.3,502.2 891.3,503.2 893.4,504.1 895.5,505.0 897.5,505.9 899.6,506.8 901.7,507.7 903.7,508.5 905.8,509.4 907.9,510.2 909.9,511.0 912.0,511.8 914.1,512.5 916.1,513.3 918.2,514.0 920.3,514.7 922.3,515.4 924.4,516.1 926.5,516.8 928.5,517.4 930.6,518.1 932.7,518.7 934.7,519.3 936.8,519.9 938.9,520.4 940.9,521.0 943.0,521.5 945.1,522.0 947.1,522.5 949.2,522.9 951.2,523.3 953.3,523.7 955.3,524.1 957.4,524.5 959.4,524.8 961.5,525.2 968.0,526.3" stroke="#0000e0" stroke-width="5.6"/>
<polyline points="122.0,200.5 123.3,202.3 124.7,204.1 126.3,206.2 127.8,208.1 129.3,210.1 130.7,212.0 132.2,213.8 133.6,215.6 135.0,217.3 136.3,219.0 137.7,220.8 139.1,222.5 140.6,224.3 142.0,226.1 143.6,228.0 145.1,229.8 146.7,231.6 148.3,233.4 149.9,235.1 151.6,236.8 153.3,238.4 155.0,239.9 156.7,241.5 158.4,243.0 160.1,244.4 161.9,245.9 163.6,247.4 165.3,248.9 167.0,250.4 168.7,251.9 170.4,253.4 172.1,254.9 173.7,256.4 175.3,257.8 176.9,259.2 178.5,260.6 180.1,262.0 181.7,263.3 183.4,264.5 185.1,265.8 186.8,267.1 188.7,268.4 190.7,269.8 192.8,271.2 195.1,272.7 197.4,274.1 199.8,275.6 202.3,277.0 204.8,278.4 207.2,279.8 209.7,281.0 212.1,282.2 214.5,283.4 216.8,284.4 219.0,285.4 221.2,286.4 223.4,287.3 225.6,288.2 227.8,289.0 230.1,289.8 232.4,290.5 234.8,291.3 237.1,292.1 239.3,292.9 241.5,293.7 243.6,294.6 245.7,295.5 247.8,296.5 249.9,297.4 252.1,298.3 254.2,299.2 256.3,300.1 258.3,301.0 260.2,301.9 262.1,302.9 264.0,304.0 265.9,305.2 267.7,306.5 269.6,307.8 271.4,309.2 273.2,310.7 275.0,312.2 276.7,313.8 278.3,315.5 279.9,317.1 281.6,318.8 283.2,320.4 284.8,322.0 286.5,323.6 288.1,325.1 289.8,326.5 291.3,328.0 292.8,329.5 294.3,331.1 295.6,332.6 297.0,334.2 298.3,335.8 299.7,337.4 301.1,339.0 302.5,340.6 303.9,342.2 305.3,343.8 306.6,345.4 308.0,347.1 309.3,348.7 310.6,350.4 311.9,352.1 313.2,353.9 314.5,355.6 315.7,357.4 317.0,359.2 318.3,361.0 319.6,362.8 320.9,364.7 322.2,366.5 323.6,368.3 325.0,370.1 326.4,371.9 327.8,373.7 329.2,375.5 330.5,377.3 331.8,379.1 333.0,381.0 334.2,382.9 335.4,384.8 336.6,386.8 337.8,388.8 338.9,390.7 340.1,392.7 341.3,394.6 342.6,396.5 343.8,398.3 345.0,400.1 346.2,401.8 347.5,403.5 348.7,405.2 349.9,406.9 351.1,408.6 352.3,410.2 353.4,411.9 354.5,413.6 355.7,415.3 356.7,417.0 357.8,418.7 358.9,420.4 359.9,422.2 361.0,423.9 362.1,425.6 363.1,427.3 364.3,429.0 365.4,430.7 366.6,432.4 367.8,434.1 368.9,435.8 370.2,437.5 371.4,439.1 372.6,440.8 373.8,442.5 375.0,444.2 376.2,446.0 377.4,447.7 378.7,449.4 379.9,451.2 381.1,452.9 382.3,454.7 383.6,456.5 384.8,458.2 386.0,460.0 387.2,461.7 388.3,463.5 389.5,465.2 390.6,466.9 391.7,468.6 392.8,470.4 393.9,472.1 395.1,473.8 396.2,475.5 397.4,477.3 398.7,479.0 399.9,480.7 401.2,482.5 402.5,484.2 403.9,486.0 405.3,487.7 406.8,489.5 408.2,491.2 409.7,492.8 411.2,494.4 412.7,496.0 414.2,497.6 415.7,499.1 417.2,500.6 418.7,502.1 420.2,503.6 421.6,505.0 423.1,506.5 424.6,508.0 426.1,509.5 427.6,510.9 429.0,512.4 430.5,513.8 432.0,515.3 433.5,516.7 435.1,518.1 436.6,519.5 438.2,520.9 439.8,522.4 441.5,523.9 443.3,525.5 445.1,527.1 446.9,528.6 448.8,530.2 450.6,531.7 452.5,533.3 454.3,534.8 456.2,536.2 458.1,537.7 459.9,539.1 461.8,540.5 463.6,541.9 465.5,543.2 467.4,544.6 469.2,545.9 471.1,547.2 472.9,548.5 474.8,549.8 476.7,551.1 478.5,552.4 480.4,553.6 482.2,554.9 484.1,556.1 485.9,557.3 487.8,558.5 489.6,559.6 491.5,560.7 493.3,561.8 495.1,562.9 496.9,564.0 498.7,565.0 500.5,566.1 502.3,567.1 504.1,568.1 505.8,569.1 507.6,570.1 509.4,571.1 511.1,572.0 512.9,573.0 514.7,574.0 516.4,574.9 518.2,575.9 520.0,576.9 521.7,577.9 523.5,578.8 525.3,579.8 527.0,580.8 528.8,581.8 530.7,582.7 532.5,583.7 534.4,584.7 536.4,585.7 538.3,586.7 540.3,587.7 542.3,588.7 544.3,589.6 546.3,590.6 548.3,591.5 550.3,592.5 552.3,593.4 554.4,594.3 556.4,595.2 558.4,596.1 560.4,596.9 562.4,597.8 564.4,598.6 566.4,599.4 568.5,600.3 570.5,601.1 572.5,601.9 574.5,602.7 576.5,603.5 578.5,604.3 580.5,605.1 582.6,605.9 584.6,606.7 586.6,607.5 588.6,608.3 590.6,609.1 592.6,609.9 594.6,610.7 596.7,611.5 598.7,612.3 600.7,613.1 602.7,613.8 604.7,614.6 606.7,615.3 608.7,616.0 610.7,616.8 612.7,617.5 614.7,618.3 616.7,619.0 618.6,619.8 620.5,620.6 622.4,621.4 624.3,622.2 626.2,623.0 628.0,623.8 629.9,624.5 631.8,625.2 633.7,625.9 635.6,626.6 637.5,627.2 639.5,627.9 641.4,628.6 643.3,629.2 645.2,629.9 647.1,630.5 649.0,631.2 650.9,631.8 652.9,632.5 654.8,633.2 656.7,633.8 658.7,634.5 660.6,635.2 662.5,635.9 664.5,636.5 666.4,637.2 668.3,637.9 670.3,638.6 672.2,639.2 674.2,639.9 676.1,640.5 678.0,641.1 680.0,641.7 681.9,642.3 683.8,642.9 685.8,643.5 687.7,644.1 689.6,644.7 691.5,645.3 693.5,645.9 695.4,646.4 697.4,647.0 699.4,647.6 701.4,648.1 703.4,648.7 705.4,649.2 707.5,649.7 709.6,650.3 711.7,650.8 713.8,651.3 715.9,651.8 718.0,652.3 720.1,652.9 722.2,653.4 724.2,653.9 726.3,654.5 728.3,655.1 730.3,655.6 732.3,656.2 734.3,656.8 736.2,657.4 738.2,658.0 740.2,658.7 742.1,659.3 744.1,659.9 746.1,660.5 748.1,661.0 750.1,661.6 752.1,662.2 754.2,662.7 756.2,663.2 758.3,663.7 760.3,664.3 762.4,664.8 764.5,665.3 766.5,665.8 768.6,666.3 770.7,666.8 772.7,667.3 774.8,667.9 776.9,668.4 778.9,668.9 781.0,669.4 783.1,670.0 785.1,670.5 787.2,671.0 789.2,671.5 791.3,672.0 793.4,672.5 795.4,673.0 797.5,673.6 799.5,674.1 801.6,674.5 803.7,675.0 805.7,675.5 807.8,676.0 809.8,676.4 811.9,676.8 814.0,677.2 816.0,677.7 818.1,678.1 820.2,678.5 822.2,678.9 824.3,679.3 826.4,679.7 828.4,680.1 830.5,680.5 832.6,680.9 834.6,681.3 836.7,681.7 838.8,682.1 840.9,682.5 843.0,682.8 845.1,683.1 847.2,683.3 849.3,683.5 851.5,683.7 853.6,683.9 855.7,684.1 857.8,684.3 860.0,684.5 862.1,684.7 864.2,684.8 866.3,685.0 868.4,685.2 870.6,685.3 872.7,685.5 874.8,685.7 876.9,685.8 879.0,686.0" stroke="#f000f5" stroke-width="5.6"/>
<polyline points="260.8,1.5 262.3,3.5 263.8,5.4 265.1,7.4 266.4,9.3 267.5,11.1 268.6,13.0 269.9,14.9 271.2,16.7 272.7,18.6 274.2,20.4 275.7,22.1 277.2,23.8 278.6,25.3 280.1,26.8 281.4,28.5 282.7,30.2 283.8,32.0 285.0,33.9 286.2,35.7 287.4,37.5 288.7,39.4 290.1,41.2 291.5,42.9 293.1,44.6 294.7,46.2 296.2,47.9 297.6,49.9 298.7,52.1 299.9,54.2 301.2,56.4 302.5,58.5 303.9,60.5 305.4,62.5 306.9,64.5 308.4,66.4 309.9,68.2 311.4,69.9 312.8,71.4 314.1,73.1 315.4,74.8 316.5,76.6 317.7,78.5 318.7,80.5 319.7,82.6 320.7,84.7 321.7,86.9 322.9,88.9 324.4,90.7 325.9,92.3 327.2,94.1 328.4,95.9 329.5,97.8 330.5,99.7 331.3,101.7 332.1,103.8 332.7,105.8 333.4,107.9 334.1,110.1 334.7,112.2 335.3,114.5 335.9,116.7 336.6,118.9 337.6,121.1 338.6,123.3 339.7,125.5 340.9,127.6 342.1,129.5 343.3,131.3 344.6,133.0 345.8,134.8 347.0,136.5 348.3,138.3 349.5,140.0 350.8,141.8 352.0,143.5 353.2,145.2 354.5,147.0 355.7,148.7 356.9,150.4 358.2,152.2 359.4,153.9 360.6,155.6 361.8,157.4 363.0,159.1 364.2,160.8 365.2,162.5 366.3,164.2 367.4,165.9 368.5,167.6 369.5,169.3 370.6,171.0 371.7,172.7 372.7,174.4 373.8,176.1 374.8,177.8 375.9,179.5 376.9,181.2 378.0,182.9 378.9,184.7 379.9,186.4 380.8,188.2 381.8,189.9 382.8,191.7 383.7,193.5 384.7,195.3 385.6,197.1 386.6,199.0 387.6,201.0 388.6,203.0 389.5,205.0 390.5,207.0 391.5,209.0 392.6,211.0 393.7,212.9 394.8,214.8 395.9,216.7 397.0,218.7 398.2,220.6 399.4,222.5 400.6,224.5 401.8,226.4 403.0,228.3 404.3,230.3 405.5,232.2 406.7,234.1 407.8,235.9 408.9,237.6 410.0,239.3 411.0,241.0 412.1,242.7 413.1,244.4 414.2,246.1 415.3,247.8 416.3,249.5 417.4,251.2 418.4,252.9 419.5,254.6 420.5,256.3 421.6,258.0 422.7,259.7 423.7,261.4 424.8,263.1 425.9,264.8 427.0,266.5 428.0,268.2 429.2,269.9 430.3,271.7 431.6,273.5 432.8,275.3 434.2,277.1 435.6,279.0 437.1,281.0 438.5,282.9 439.7,284.7 440.8,286.5 442.0,288.3 443.2,290.1 444.5,292.0 445.9,294.0 447.2,295.9 448.4,297.7 449.5,299.5 450.7,301.3 451.9,303.1 453.2,305.0 454.5,307.0 455.9,308.9 457.1,310.7 458.2,312.5 459.3,314.3 460.5,316.1 461.9,318.1 463.3,320.1 464.7,322.1 466.1,324.1 467.6,326.1 469.0,328.1 470.5,330.1 471.9,332.2 473.3,334.2 474.6,336.1 475.8,338.0 477.0,339.9 478.3,341.6 479.5,343.3 480.8,345.0 482.1,346.7 483.3,348.3 484.6,350.0 485.8,351.6 487.1,353.2 488.3,354.8 489.5,356.3 490.8,357.9 492.0,359.6 493.3,361.3 494.5,363.0 495.8,364.7 497.0,366.4 498.3,368.2 499.6,369.9 501.0,371.7 502.5,373.5 503.9,375.2 505.4,377.0 506.9,378.8 508.4,380.6 509.9,382.4 511.3,384.1 512.8,385.9 514.3,387.6 515.8,389.2 517.3,390.7 518.8,392.2 520.3,393.7 521.8,395.2 523.3,396.7 524.8,398.2 526.2,399.6 527.8,401.1 529.4,402.7 531.1,404.2 532.9,405.8 534.8,407.4 536.5,408.9 538.1,410.4 539.7,411.8 541.1,413.2 542.7,414.6 544.2,416.0 545.9,417.3 547.7,418.7 549.5,420.0 551.3,421.3 553.1,422.7 554.8,424.0 556.5,425.4 558.2,426.8 559.8,428.2 561.5,429.6 563.1,430.9 564.8,432.3 566.4,433.7 568.1,435.1 569.7,436.5 571.4,437.8 573.0,439.1 574.7,440.4 576.3,441.7 578.0,443.1 579.6,444.4 581.3,445.7 582.9,447.0 584.6,448.3 586.3,449.5 587.9,450.8 589.6,452.0 591.2,453.3 592.9,454.5 594.5,455.8 596.2,457.0 597.8,458.2 599.5,459.5 601.1,460.6 602.8,461.8 604.4,463.0 606.1,464.1 607.7,465.3 609.4,466.4 611.0,467.6 612.6,468.8 614.2,470.0 615.8,471.3 617.4,472.6 618.9,474.0 620.4,475.4 621.9,476.8 623.5,478.1 625.1,479.4 626.8,480.5 628.5,481.6 630.3,482.7 632.1,483.8 634.0,484.8 635.9,485.9 637.9,487.0 639.8,488.1 641.8,489.2 643.8,490.4 645.7,491.5 647.7,492.7 649.7,493.9 651.7,495.1 653.7,496.3 655.6,497.4 657.6,498.6 659.6,499.7 661.6,500.8 663.6,501.8 665.6,502.8 667.6,503.8 669.6,504.9 671.6,506.0 673.6,507.2 675.5,508.3 677.5,509.5 679.5,510.6 681.5,511.7 683.5,512.7 685.4,513.7 687.4,514.7 689.4,515.8 691.4,516.9 693.4,518.0 695.3,519.1 697.3,520.2 699.3,521.3 701.2,522.3 703.0,523.2 704.9,524.1 706.8,525.0 708.7,526.0 710.5,526.9 712.4,527.8 714.3,528.7 716.2,529.5 718.0,530.4 719.9,531.2 721.8,532.0 723.6,532.9 725.5,533.7 727.3,534.6 729.2,535.4 731.1,536.3 732.9,537.3 734.8,538.2 736.6,539.1 738.5,540.1 740.4,541.0 742.2,542.0 744.1,543.0 746.1,544.1 748.0,545.3 750.0,546.3 751.8,547.3 753.7,548.2 755.6,549.0 757.4,549.9 759.3,550.7 761.2,551.5 763.0,552.4 764.9,553.2 766.8,554.0 768.7,554.8 770.7,555.6 772.7,556.3 774.8,557.1 776.9,557.8 778.9,558.5 781.0,559.2 783.1,560.0 785.1,560.7 787.2,561.4 789.3,562.1 791.3,562.8 793.4,563.6 795.4,564.3 797.5,565.0 799.5,565.7 801.6,566.5 803.6,567.2 805.7,567.9 807.8,568.5 809.8,569.1 811.9,569.7 814.0,570.3 816.0,571.0 818.1,571.6 820.2,572.2 822.2,572.8 824.3,573.4 826.4,574.0 828.4,574.6 830.5,575.3 832.6,575.9 834.6,576.5 836.7,577.1 838.8,577.8 840.8,578.4 842.9,578.9 845.0,579.5 847.2,580.0 849.3,580.5 851.4,580.9 853.6,581.4 855.7,581.9 857.8,582.4 859.9,583.0 862.0,583.5 864.0,584.1 866.0,584.7 868.0,585.3 870.1,585.9 872.1,586.5 874.1,587.1 876.1,587.7 878.1,588.3 880.1,588.9 882.1,589.5 884.1,590.1 886.2,590.7 888.2,591.3 890.2,591.9 892.2,592.5 894.2,593.1 896.2,593.7 898.2,594.3 900.2,594.9 902.3,595.6 904.3,596.2 906.3,596.8 908.3,597.3 910.3,597.9 912.3,598.4 914.3,598.9 916.3,599.4 918.4,599.9 920.4,600.4 922.4,600.9 924.4,601.4 926.4,601.9 928.4,602.4 930.4,602.9 932.4,603.4 934.5,603.9 936.5,604.4 938.5,604.9 940.5,605.4 942.6,605.9 944.7,606.4 946.8,607.0 948.9,607.5 951.0,608.0 953.0,608.5 955.1,609.0 957.2,609.5 959.3,610.1 961.4,610.6 968.0,612.2" stroke="#006400" stroke-width="5.6"/>
</g>
<g font-family="Liberation Sans, sans-serif" font-weight="bold" font-size="36" fill="#000">
<text x="103.5" y="696.3" text-anchor="end">0.2</text>
<text x="103.5" y="423.1" text-anchor="end">0.4</text>
<text x="103.5" y="150.0" text-anchor="end">0.6</text>
<text x="126.0" y="735.5" text-anchor="middle">300</text>
<text x="335.8" y="735.5" text-anchor="middle">400</text>
<text x="545.7" y="735.5" text-anchor="middle">500</text>
<text x="755.5" y="735.5" text-anchor="middle">600</text>
<text x="965.4" y="735.5" text-anchor="middle">700</text>
<text x="545" y="798.3" text-anchor="middle" font-size="36.5">Wavelength (nm)</text>
<text transform="translate(28.3,374) rotate(-90)" x="0" y="0" text-anchor="middle" font-size="36.6">Absorbance</text>
</g>
<g font-family="Liberation Sans, sans-serif" font-weight="bold" font-size="36">
<line x1="759" y1="35.4" x2="853" y2="35.4" stroke="#000000" stroke-width="5.4" stroke-linecap="round"/>
<text x="863" y="47.1" fill="#000">Ag10</text>
<line x1="759" y1="81.5" x2="853" y2="81.5" stroke="#f20000" stroke-width="5.4" stroke-linecap="round"/>
<text x="863" y="93.2" fill="#000">Ag20</text>
<line x1="759" y1="128" x2="853" y2="128" stroke="#00fa00" stroke-width="5.4" stroke-linecap="round"/>
<text x="863" y="139.7" fill="#000">Au10</text>
<line x1="759" y1="173.3" x2="853" y2="173.3" stroke="#0000e0" stroke-width="5.4" stroke-linecap="round"/>
<text x="863" y="185.0" fill="#000">Au20</text>
<line x1="759" y1="219.4" x2="853" y2="219.4" stroke="#f000f5" stroke-width="5.4" stroke-linecap="round"/>
<text x="863" y="231.1" fill="#000">Pd10</text>
<line x1="759" y1="265" x2="853" y2="265" stroke="#006400" stroke-width="5.4" stroke-linecap="round"/>
<text x="863" y="276.7" fill="#000">Pd20</text>
</g>
<g font-family="Liberation Sans, sans-serif" font-weight="bold" font-size="36">
<text x="312.3" y="317.6" fill="#f20000">445 nm</text>
<text x="585" y="202.5" fill="#0000e0">536 nm</text>
<text x="595" y="401" fill="#00fa00">538 nm</text>
<text x="478.5" y="537.5" fill="#000">449 nm</text>
</g>
<line x1="425.4" y1="386.0" x2="422.8" y2="342.3" stroke="#f20000" stroke-width="4.6" stroke-linecap="round"/><polygon points="421.9,326.8 428.0,344.0 422.8,342.8 417.8,344.6" fill="#f20000" stroke="#f20000" stroke-width="1" stroke-linejoin="round"/>
<line x1="627.6" y1="265.8" x2="623.7" y2="221.3" stroke="#0000e0" stroke-width="4.6" stroke-linecap="round"/><polygon points="622.3,205.9 628.9,222.9 623.7,221.8 618.8,223.8" fill="#0000e0" stroke="#0000e0" stroke-width="1" stroke-linejoin="round"/>
<line x1="623.8" y1="326.9" x2="625.9" y2="360.7" stroke="#00fa00" stroke-width="4.6" stroke-linecap="round"/><polygon points="626.9,376.2 620.7,359.1 625.9,360.2 630.9,358.4" fill="#00fa00" stroke="#00fa00" stroke-width="1" stroke-linejoin="round"/>
<line x1="446.5" y1="451.5" x2="495.0" y2="495.3" stroke="#000000" stroke-width="4.6" stroke-linecap="round"/><polygon points="506.5,505.7 490.1,497.8 494.6,495.0 496.9,490.2" fill="#000000" stroke="#000000" stroke-width="1" stroke-linejoin="round"/>
</svg>
</body></html>
